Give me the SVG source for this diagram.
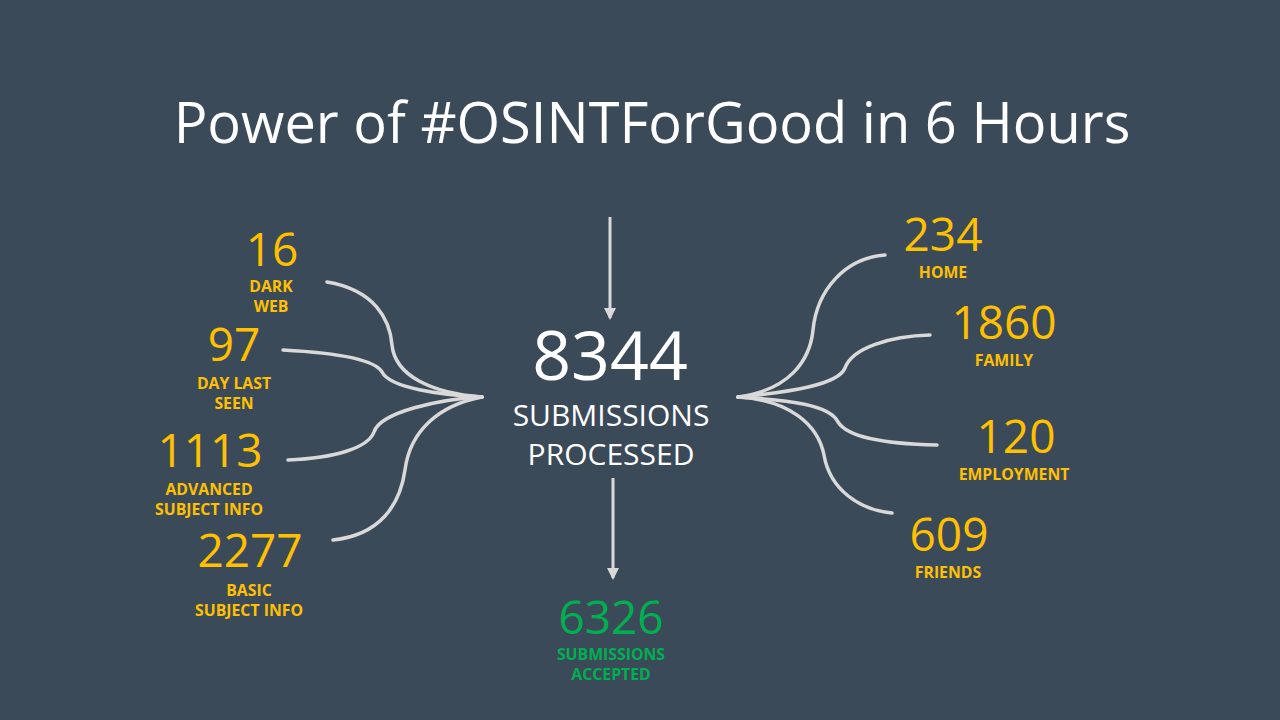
<svg xmlns="http://www.w3.org/2000/svg" width="1280" height="720" viewBox="0 0 1280 720">
<defs>
<style>
text{font-family:"Open Sans","Noto Sans","Liberation Sans",sans-serif;text-anchor:middle}
.num{fill:#FFC000;font-size:46px}
.lab{fill:#FFC000;font-size:15.8px;font-weight:bold}
.w{fill:#FFFFFF}
.g{fill:#00B050}
.c{fill:none;stroke:#D9D9D9;stroke-width:3.5;stroke-linecap:round}
.a{fill:none;stroke:#D9D9D9;stroke-width:3}
</style>
<marker id="ah" markerWidth="12" markerHeight="12" viewBox="0 0 12 12" refX="10" refY="6" orient="auto" markerUnits="userSpaceOnUse">
<path d="M0,0 L12,6 L0,12 Z" fill="#D9D9D9"/>
</marker>
</defs>
<rect width="1280" height="720" fill="#3B4A59"/>
<text id="title" x="652" y="143" class="w" style="font-size:56px">Power of #OSINTForGood in 6 Hours</text>
<g id="connectors">
<line class="a" x1="610" y1="217" x2="610" y2="318" marker-end="url(#ah)"/>
<line class="a" x1="613" y1="478" x2="613" y2="578" marker-end="url(#ah)"/>
<path class="c" d="M327,282 C375,290 390,320 392,345 C395,375 430,393 482,397"/>
<path class="c" d="M283,350 C340,353 375,360 382,372 C390,388 440,395 482,397"/>
<path class="c" d="M288,460 C335,458 368,448 374,432 C380,412 440,399 482,397"/>
<path class="c" d="M333,540 C380,535 400,505 405,470 C410,430 440,405 482,397"/>
<path class="c" d="M738,397 C790,390 810,360 813,330 C817,290 845,258 885,255"/>
<path class="c" d="M738,397 C790,392 838,385 845,368 C852,348 890,336 930,335"/>
<path class="c" d="M738,397 C790,400 830,405 838,422 C848,438 890,444 937,445"/>
<path class="c" d="M738,397 C790,400 818,425 824,455 C830,490 860,510 892,513"/>
</g>
<g id="center">
<text x="610" y="380" class="w" style="font-size:68px">8344</text>
<text x="611" y="426" class="w" style="font-size:30px">SUBMISSIONS</text>
<text x="611" y="465" class="w" style="font-size:30px">PROCESSED</text>
</g>
<g id="accepted">
<text x="611" y="634" class="g" style="font-size:46px">6326</text>
<text x="611" y="660" class="g" style="font-size:15.8px;font-weight:bold">SUBMISSIONS</text>
<text x="611" y="680" class="g" style="font-size:15.8px;font-weight:bold">ACCEPTED</text>
</g>
<g id="darkweb">
<text x="272" y="266" class="num">16</text>
<text x="271" y="292" class="lab">DARK</text>
<text x="271" y="312" class="lab">WEB</text>
</g>
<g id="daylastseen">
<text x="234" y="361" class="num">97</text>
<text x="234" y="389" class="lab">DAY LAST</text>
<text x="234" y="409" class="lab">SEEN</text>
</g>
<g id="advanced">
<text x="210" y="467" class="num">1113</text>
<text x="209" y="495" class="lab">ADVANCED</text>
<text x="209" y="515" class="lab">SUBJECT INFO</text>
</g>
<g id="basic">
<text x="250" y="567" class="num">2277</text>
<text x="249" y="596" class="lab">BASIC</text>
<text x="249" y="616" class="lab">SUBJECT INFO</text>
</g>
<g id="home">
<text x="943" y="251" class="num">234</text>
<text x="943" y="278" class="lab">HOME</text>
</g>
<g id="family">
<text x="1004" y="339" class="num">1860</text>
<text x="1004" y="366" class="lab">FAMILY</text>
</g>
<g id="employment">
<text x="1016" y="453" class="num">120</text>
<text x="1014" y="480" class="lab">EMPLOYMENT</text>
</g>
<g id="friends">
<text x="949" y="551" class="num">609</text>
<text x="948" y="578" class="lab">FRIENDS</text>
</g>
</svg>
